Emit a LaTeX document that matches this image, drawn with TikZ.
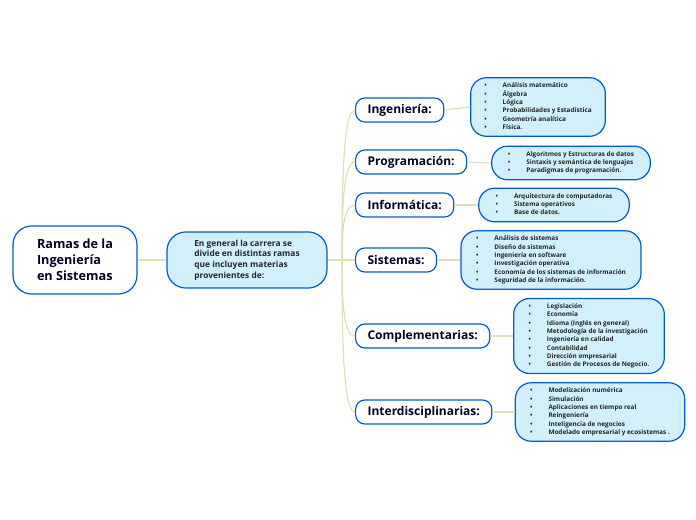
\documentclass[tikz,border=0pt]{standalone}
\usepackage{fontspec}
\setmainfont{Open Sans}
\usetikzlibrary{calc}
\begin{document}
\begin{tikzpicture}[x=0.75pt,y=-0.75pt,
 bl/.style={draw=blue!55!cyan!80!black, line width=0.9pt, rounded corners=12pt},
 cat/.style={bl, fill=white, font=\bfseries\fontsize{9}{11}\selectfont, text=black!85!blue, anchor=west, minimum height=18pt, inner xsep=9pt, rounded corners=7pt},
 leaf/.style={bl, fill=cyan!18, font=\bfseries\fontsize{4.8}{6.2}\selectfont, text=black!85},
 con/.style={draw=yellow!40!gray!45, line width=0.9pt}]
\useasboundingbox (0,0) rectangle (696,520);
\node[bl, fill=white, minimum width=93pt, minimum height=51pt, align=left, font=\bfseries\fontsize{9.5}{12}\selectfont, text=black!85!blue, rounded corners=14pt] (root) at (75,260) {Ramas de la\\Ingeniería\\en Sistemas};
\node[bl, fill=cyan!18, minimum width=120pt, minimum height=42pt, align=left, font=\bfseries\fontsize{6.3}{8}\selectfont, text=black!85, rounded corners=14pt] (gen) at (247,260) {En general la carrera se\\divide en distintas ramas\\que incluyen materias\\provenientes de:};
\draw[con] (root) -- (gen);
\coordinate (br) at (342,260);
\draw[con] (gen.east) -- (br);
\node[cat] (c1) at (355,110) {Ingeniería:};
\node[cat] (c2) at (355,162) {Programación:};
\node[cat] (c3) at (355,205) {Informática:};
\node[cat] (c4) at (355,260) {Sistemas:};
\node[cat] (c5) at (355,336) {Complementarias:};
\node[cat] (c6) at (355,412) {Interdisciplinarias:};
\foreach \c in {c1,c2,c3,c4,c5,c6}
 \draw[con] (br) .. controls ($(br)!0.5!(br|-\c.west)$) and ($(\c.west)+(-12,0)$) .. (\c.west);
\newcommand{\li}[1]{\textbullet&#1\\}
\node[leaf, minimum width=101pt, minimum height=42pt] (l1) at (538,107) {\begin{tabular}{@{}l@{\hspace{12pt}}l@{}}\li{Análisis matemático}\li{Álgebra}\li{Lógica}\li{Probabilidades y Estadística}\li{Geometría analítica}\li{Física.}\end{tabular}};
\node[leaf, minimum width=119pt, minimum height=24pt] (l2) at (571,163) {\begin{tabular}{@{}l@{\hspace{12pt}}l@{}}\li{Algoritmos y Estructuras de datos}\li{Sintaxis y semántica de lenguajes}\li{Paradigmas de programación.}\end{tabular}};
\node[leaf, minimum width=113pt, minimum height=25pt] (l3) at (554,205) {\begin{tabular}{@{}l@{\hspace{12pt}}l@{}}\li{Arquitectura de computadoras}\li{Sistema operativos}\li{Base de datos.}\end{tabular}};
\node[leaf, minimum width=135pt, minimum height=43pt] (l4) at (551,260) {\begin{tabular}{@{}l@{\hspace{12pt}}l@{}}\li{Análisis de sistemas}\li{Diseño de sistemas}\li{Ingeniería en software}\li{Investigación operativa}\li{Economía de los sistemas de información}\li{Seguridad de la información.}\end{tabular}};
\node[leaf, minimum width=113pt, minimum height=56pt] (l5) at (589,336) {\begin{tabular}{@{}l@{\hspace{12pt}}l@{}}\li{Legislación}\li{Economía}\li{Idioma (Inglés en general)}\li{Metodología de la investigación}\li{Ingeniería en calidad}\li{Contabilidad}\li{Dirección empresarial}\li{Gestión de Procesos de Negocio.}\end{tabular}};
\node[leaf, minimum width=127pt, minimum height=43pt] (l6) at (600,412) {\begin{tabular}{@{}l@{\hspace{12pt}}l@{}}\li{Modelización numérica}\li{Simulación}\li{Aplicaciones en tiempo real}\li{Reingeniería}\li{Inteligencia de negocios}\li{Modelado empresarial y ecosistemas .}\end{tabular}};
\foreach \i in {1,...,6} \draw[con] (c\i.east) -- (l\i.west);
\end{tikzpicture}
\end{document}
